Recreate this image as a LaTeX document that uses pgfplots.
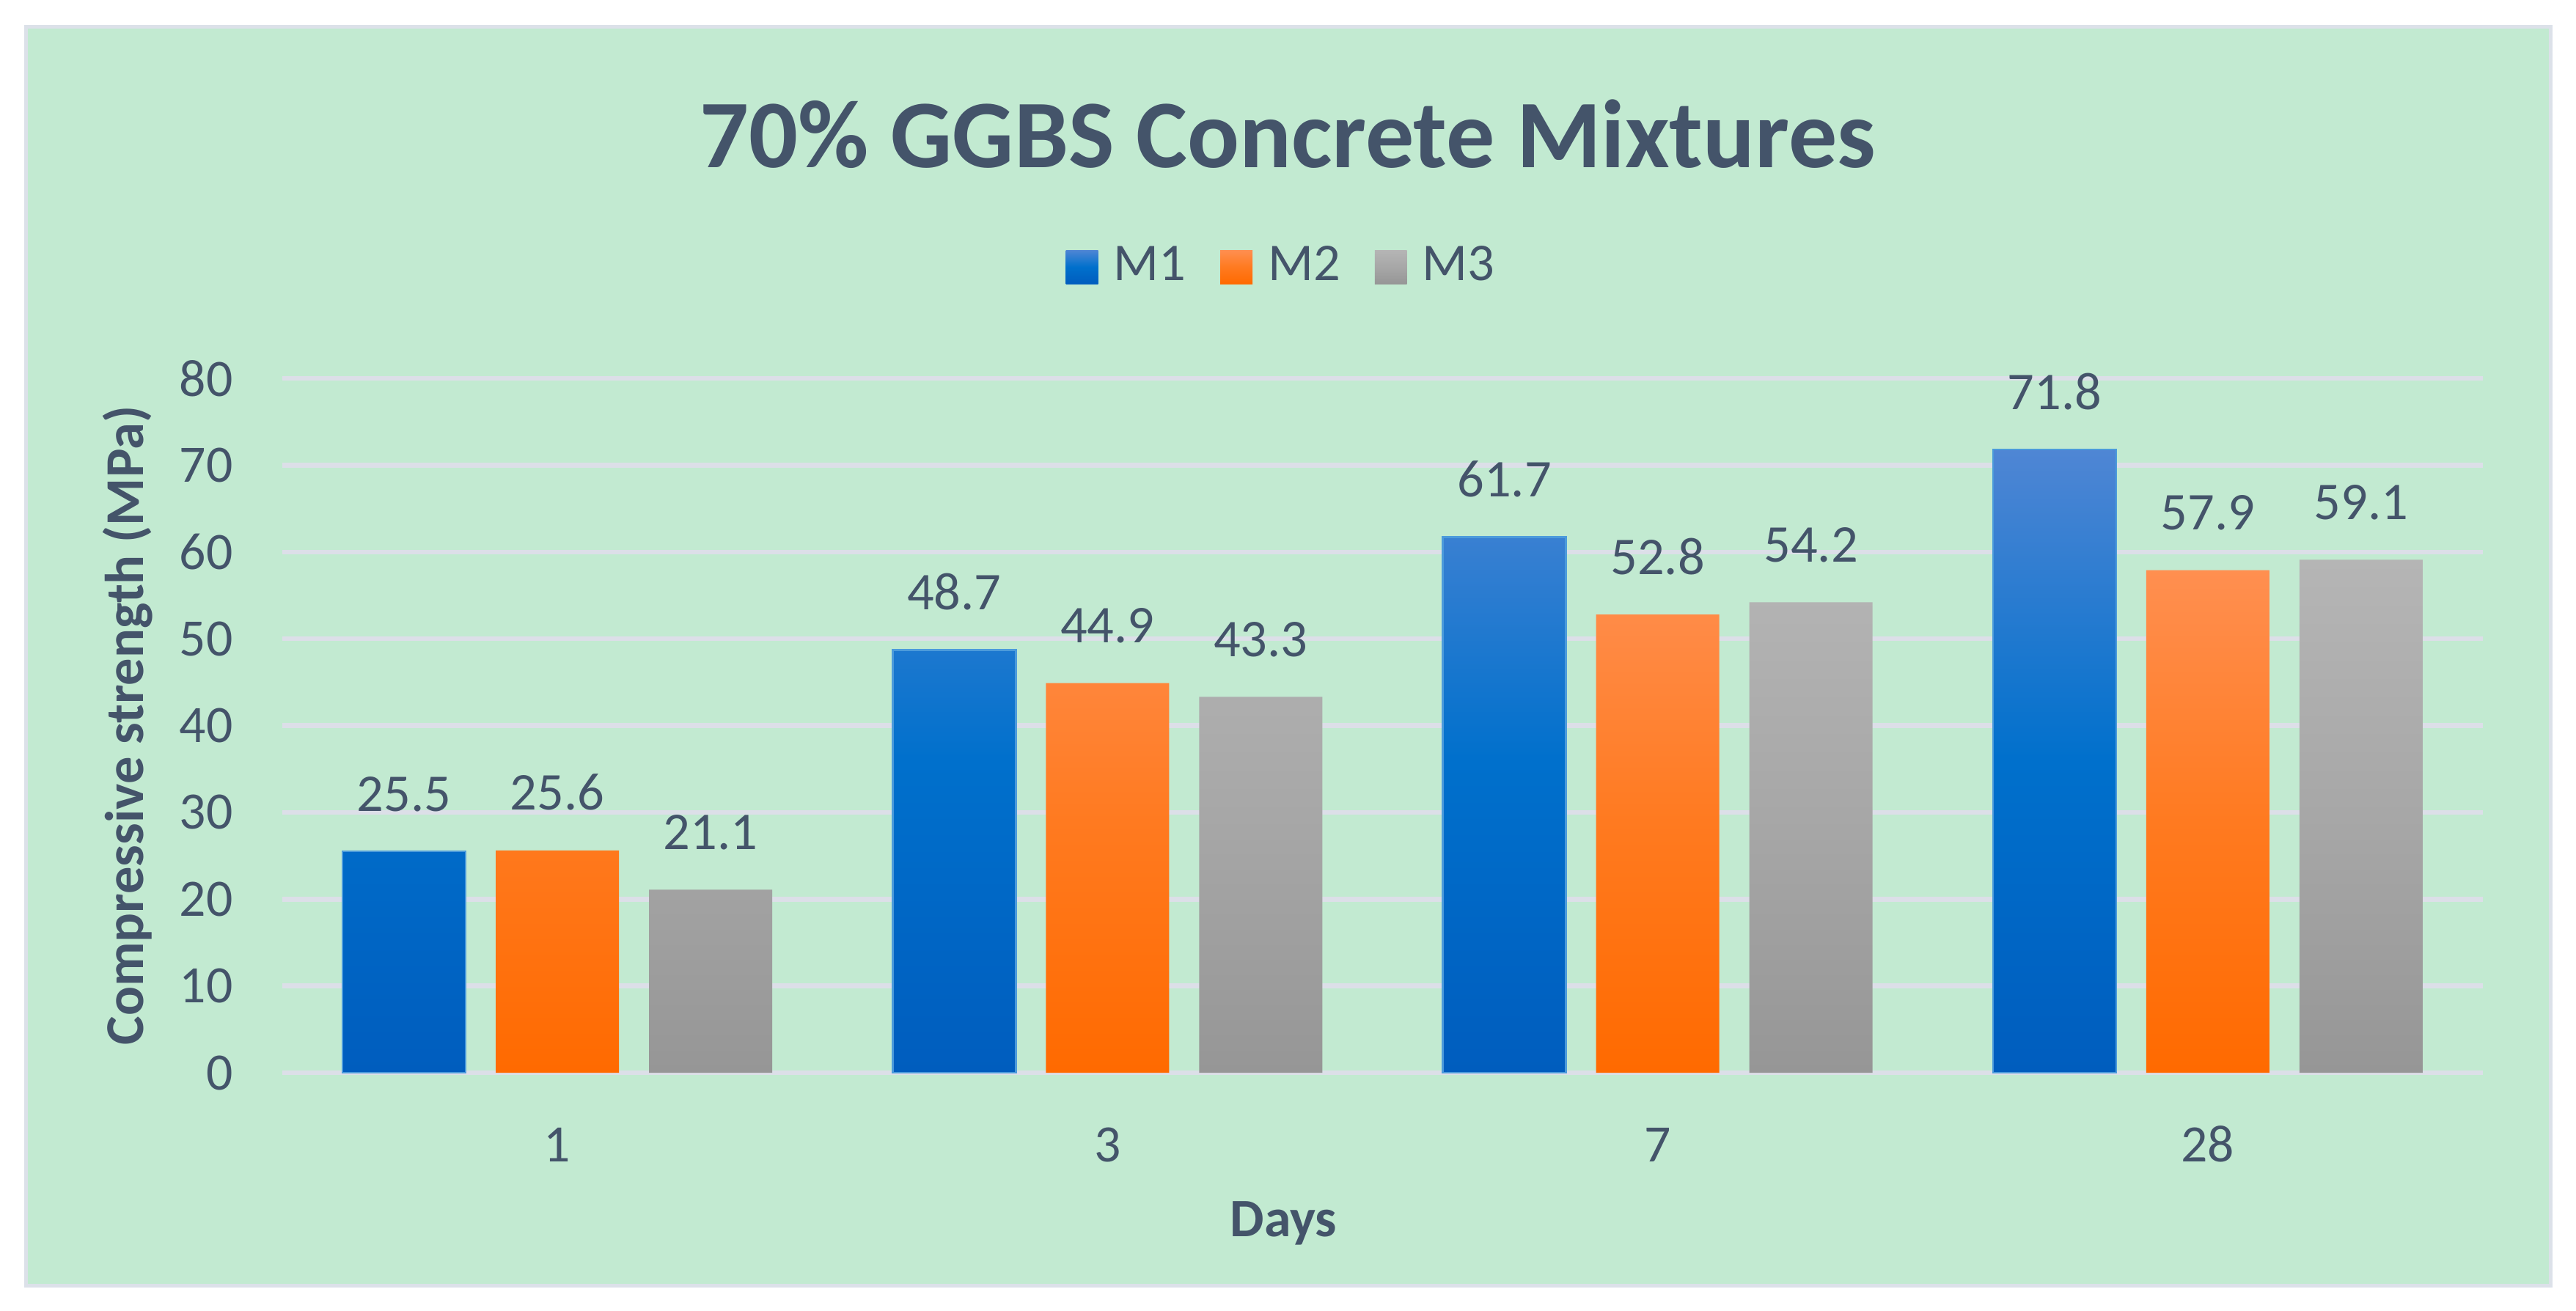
\documentclass[border=0pt]{standalone}
\usepackage{pgfplots}
\pgfplotsset{compat=1.18}
\usepackage{fontspec}
\setmainfont{Carlito}
\definecolor{bg}{HTML}{C2EAD1}
\definecolor{frame}{HTML}{DCE1E9}
\definecolor{gridc}{HTML}{DCDFE8}
\definecolor{txt}{HTML}{44546A}
\definecolor{b1}{HTML}{4F86D4}
\definecolor{b2}{HTML}{0070CC}
\definecolor{b3}{HTML}{005DBE}
\definecolor{o1}{HTML}{FF8F50}
\definecolor{o2}{HTML}{FF7A20}
\definecolor{o3}{HTML}{FF6A00}
\definecolor{g1}{HTML}{B5B5B5}
\definecolor{g2}{HTML}{A7A7A7}
\definecolor{g3}{HTML}{969696}
\begin{document}
\begin{tikzpicture}
\useasboundingbox[fill=white] (-19.25mm,-16.2mm) rectangle (156.4mm,73.15mm);
\filldraw[fill=bg, draw=frame, line width=0.25mm] (-17.45mm,-14.5mm) rectangle (154.65mm,71.35mm);
\begin{axis}[
  scale only axis, width=150.05mm, height=47.35mm,
  xmin=-0.5, xmax=3.5, ymin=0, ymax=80,
  ybar=2.05mm, bar width=8.4mm,
  xtick={0,1,2,3}, xticklabels={1,3,7,28},
  ytick={0,10,...,80},
  axis line style={draw=none},
  major tick length=0pt,
  ymajorgrids, grid style={draw=gridc, line width=0.33mm},
  clip=false,
  /pgf/number format/assume math mode=true,
  tick label style={font=\fontsize{10.2}{12}\selectfont, text=txt},
  yticklabel style={anchor=east, inner sep=0pt, xshift=-3.3mm},
  xticklabel style={anchor=base, inner sep=0pt, yshift=-6.05mm},
  ylabel={Compressive strength (MPa)},
  ylabel style={font=\bfseries\fontsize{10.6}{12}\selectfont, text=txt, at={(axis description cs:-0.063,0.5)}, anchor=base},
  xlabel={Days},
  xlabel style={font=\bfseries\fontsize{10.5}{12}\selectfont, text=txt, at={(axis description cs:0.455,-0.2365)}, anchor=base},
  legend columns=3,
  legend style={at={(axis description cs:0.4535,1.1605)}, anchor=center, draw=none, fill=none,
    font=\fontsize{10.3}{12}\selectfont, text=txt,
    nodes={inner sep=0pt},
    /tikz/every odd column/.append style={column sep=1.05mm},
    /tikz/every even column/.append style={column sep=2.35mm}},
  legend image code/.code={\path[#1,draw=none] (0mm,-1.15mm) rectangle (2.2mm,1.15mm);},
  nodes near coords={\pgfmathprintnumber[fixed,precision=1,fixed zerofill]{\pgfplotspointmeta}},
  nodes near coords style={font=\fontsize{10.3}{12}\selectfont, text=txt, anchor=base, inner sep=0pt, yshift=2.75mm},
]
\addplot[top color=b1, bottom color=b3, middle color=b2, draw=b2!70!white, line width=0.12mm]
  coordinates {(0,25.5) (1,48.7) (2,61.7) (3,71.8)};
\addlegendentry{M1}
\addplot[top color=o1, bottom color=o3, middle color=o2, draw=none]
  coordinates {(0,25.6) (1,44.9) (2,52.8) (3,57.9)};
\addlegendentry{M2}
\addplot[top color=g1, bottom color=g3, middle color=g2, draw=none]
  coordinates {(0,21.1) (1,43.3) (2,54.2) (3,59.1)};
\addlegendentry{M3}
\end{axis}
\node[anchor=base, font=\bfseries\fontsize{18.8}{22}\selectfont, text=txt] at (68.575mm,61.75mm) {70\% GGBS Concrete Mixtures};
\end{tikzpicture}
\end{document}
